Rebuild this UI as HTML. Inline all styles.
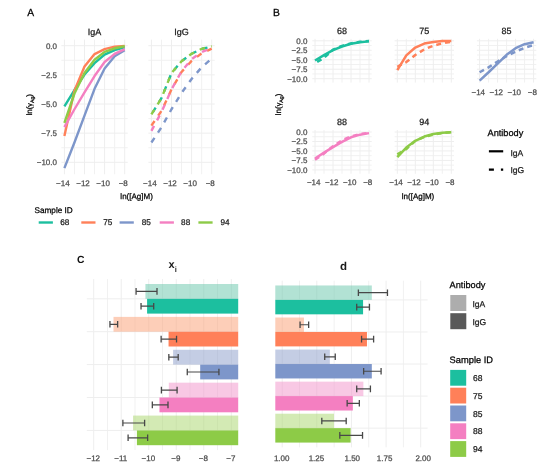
<!DOCTYPE html>
<html><head><meta charset="utf-8"><style>
html,body{-webkit-font-smoothing:antialiased;text-rendering:geometricPrecision;margin:0;padding:0;background:#fff;width:550px;height:471px;overflow:hidden;font-family:"Liberation Sans", sans-serif;}
</style></head><body>
<svg width="550" height="471" viewBox="0 0 550 471" style="position:absolute;left:0;top:0;will-change:transform;filter:blur(0.35px)" font-family='"Liberation Sans", sans-serif'>
<rect x="0.00" y="0.00" width="550.00" height="471.00" fill="#FFFFFF" />
<text x="27.20" y="16.10" font-size="10.3" text-anchor="start" fill="#000" font-weight="normal" stroke="#000" stroke-width="0.25" >A</text>
<line x1="74.45" y1="39.58" x2="74.45" y2="174.25" stroke="#F1F1F1" stroke-width="1.0" />
<line x1="94.55" y1="39.58" x2="94.55" y2="174.25" stroke="#F1F1F1" stroke-width="1.0" />
<line x1="114.65" y1="39.58" x2="114.65" y2="174.25" stroke="#F1F1F1" stroke-width="1.0" />
<line x1="61.38" y1="60.28" x2="127.72" y2="60.28" stroke="#F1F1F1" stroke-width="1.0" />
<line x1="61.38" y1="89.43" x2="127.72" y2="89.43" stroke="#F1F1F1" stroke-width="1.0" />
<line x1="61.38" y1="118.58" x2="127.72" y2="118.58" stroke="#F1F1F1" stroke-width="1.0" />
<line x1="61.38" y1="147.73" x2="127.72" y2="147.73" stroke="#F1F1F1" stroke-width="1.0" />
<line x1="64.40" y1="39.58" x2="64.40" y2="174.25" stroke="#EEEEEE" stroke-width="1" />
<line x1="84.50" y1="39.58" x2="84.50" y2="174.25" stroke="#EEEEEE" stroke-width="1" />
<line x1="104.60" y1="39.58" x2="104.60" y2="174.25" stroke="#EEEEEE" stroke-width="1" />
<line x1="124.70" y1="39.58" x2="124.70" y2="174.25" stroke="#EEEEEE" stroke-width="1" />
<line x1="61.38" y1="45.70" x2="127.72" y2="45.70" stroke="#EEEEEE" stroke-width="1" />
<line x1="61.38" y1="74.85" x2="127.72" y2="74.85" stroke="#EEEEEE" stroke-width="1" />
<line x1="61.38" y1="104.00" x2="127.72" y2="104.00" stroke="#EEEEEE" stroke-width="1" />
<line x1="61.38" y1="133.15" x2="127.72" y2="133.15" stroke="#EEEEEE" stroke-width="1" />
<line x1="61.38" y1="162.30" x2="127.72" y2="162.30" stroke="#EEEEEE" stroke-width="1" />
<clipPath id="cA1"><rect x="61.38" y="39.58" width="66.33" height="134.67"/></clipPath>
<g clip-path="url(#cA1)" fill="none" stroke-linejoin="round">
<polyline points="64.40,106.33 74.45,90.01 84.50,74.50 94.55,63.19 104.60,54.68 114.65,50.13 124.70,47.45" stroke="#1CBF9F" stroke-width="2.4" />
<polyline points="64.40,136.06 74.45,90.59 84.50,66.45 94.55,54.10 104.60,49.20 114.65,46.63 124.70,45.93" stroke="#FF8059" stroke-width="2.4" />
<polyline points="64.40,168.13 74.45,142.48 84.50,115.66 94.55,88.84 104.60,68.44 114.65,56.19 124.70,50.25" stroke="#7D96CA" stroke-width="2.4" />
<polyline points="64.40,127.09 74.45,109.25 84.50,92.34 94.55,76.02 104.60,62.02 114.65,53.86 124.70,49.20" stroke="#F47FC1" stroke-width="2.4" />
<polyline points="64.40,122.89 74.45,93.51 84.50,72.98 94.55,59.69 104.60,51.88 114.65,48.27 124.70,46.17" stroke="#8DCB47" stroke-width="2.4" />
</g>
<text x="94.55" y="34.80" font-size="9" text-anchor="middle" fill="#1A1A1A" font-weight="normal" stroke="#1A1A1A" stroke-width="0.25" >IgA</text>
<text x="57.00" y="48.60" font-size="8" text-anchor="end" fill="#4D4D4D" font-weight="normal" stroke="#4D4D4D" stroke-width="0.25" >0.0</text>
<text x="57.00" y="77.75" font-size="8" text-anchor="end" fill="#4D4D4D" font-weight="normal" stroke="#4D4D4D" stroke-width="0.25" >−2.5</text>
<text x="57.00" y="106.90" font-size="8" text-anchor="end" fill="#4D4D4D" font-weight="normal" stroke="#4D4D4D" stroke-width="0.25" >−5.0</text>
<text x="57.00" y="136.05" font-size="8" text-anchor="end" fill="#4D4D4D" font-weight="normal" stroke="#4D4D4D" stroke-width="0.25" >−7.5</text>
<text x="57.00" y="165.20" font-size="8" text-anchor="end" fill="#4D4D4D" font-weight="normal" stroke="#4D4D4D" stroke-width="0.25" >−10.0</text>
<text x="62.90" y="186.40" font-size="8" text-anchor="middle" fill="#4D4D4D" font-weight="normal" stroke="#4D4D4D" stroke-width="0.25" >−14</text>
<text x="83.00" y="186.40" font-size="8" text-anchor="middle" fill="#4D4D4D" font-weight="normal" stroke="#4D4D4D" stroke-width="0.25" >−12</text>
<text x="103.10" y="186.40" font-size="8" text-anchor="middle" fill="#4D4D4D" font-weight="normal" stroke="#4D4D4D" stroke-width="0.25" >−10</text>
<text x="123.20" y="186.40" font-size="8" text-anchor="middle" fill="#4D4D4D" font-weight="normal" stroke="#4D4D4D" stroke-width="0.25" >−8</text>
<line x1="161.45" y1="39.58" x2="161.45" y2="174.25" stroke="#F1F1F1" stroke-width="1.0" />
<line x1="181.55" y1="39.58" x2="181.55" y2="174.25" stroke="#F1F1F1" stroke-width="1.0" />
<line x1="201.65" y1="39.58" x2="201.65" y2="174.25" stroke="#F1F1F1" stroke-width="1.0" />
<line x1="148.38" y1="60.28" x2="214.72" y2="60.28" stroke="#F1F1F1" stroke-width="1.0" />
<line x1="148.38" y1="89.43" x2="214.72" y2="89.43" stroke="#F1F1F1" stroke-width="1.0" />
<line x1="148.38" y1="118.58" x2="214.72" y2="118.58" stroke="#F1F1F1" stroke-width="1.0" />
<line x1="148.38" y1="147.73" x2="214.72" y2="147.73" stroke="#F1F1F1" stroke-width="1.0" />
<line x1="151.40" y1="39.58" x2="151.40" y2="174.25" stroke="#EEEEEE" stroke-width="1" />
<line x1="171.50" y1="39.58" x2="171.50" y2="174.25" stroke="#EEEEEE" stroke-width="1" />
<line x1="191.60" y1="39.58" x2="191.60" y2="174.25" stroke="#EEEEEE" stroke-width="1" />
<line x1="211.70" y1="39.58" x2="211.70" y2="174.25" stroke="#EEEEEE" stroke-width="1" />
<line x1="148.38" y1="45.70" x2="214.72" y2="45.70" stroke="#EEEEEE" stroke-width="1" />
<line x1="148.38" y1="74.85" x2="214.72" y2="74.85" stroke="#EEEEEE" stroke-width="1" />
<line x1="148.38" y1="104.00" x2="214.72" y2="104.00" stroke="#EEEEEE" stroke-width="1" />
<line x1="148.38" y1="133.15" x2="214.72" y2="133.15" stroke="#EEEEEE" stroke-width="1" />
<line x1="148.38" y1="162.30" x2="214.72" y2="162.30" stroke="#EEEEEE" stroke-width="1" />
<clipPath id="cA2"><rect x="148.38" y="39.58" width="66.33" height="134.67"/></clipPath>
<g clip-path="url(#cA2)" fill="none" stroke-linejoin="round">
<polyline points="151.40,114.49 161.45,98.17 171.50,73.10 181.55,61.21 191.60,53.75 201.65,48.85 211.70,46.63" stroke="#1CBF9F" stroke-width="2.4" stroke-dasharray="5.6 6.3" stroke-dashoffset="-2.5"/>
<polyline points="151.40,125.57 161.45,111.00 171.50,89.43 181.55,71.94 191.60,60.86 201.65,53.40 211.70,48.62" stroke="#FF8059" stroke-width="2.4" stroke-dasharray="5.6 6.3"/>
<polyline points="151.40,142.48 161.45,127.32 171.50,109.25 181.55,92.92 191.60,78.93 201.65,67.27 211.70,58.53" stroke="#7D96CA" stroke-width="2.4" stroke-dasharray="5.6 6.3"/>
<polyline points="151.40,130.82 161.45,112.16 171.50,89.43 181.55,71.35 191.60,59.11 201.65,52.11 211.70,48.03" stroke="#F47FC1" stroke-width="2.4" stroke-dasharray="5.6 6.3"/>
<polyline points="151.40,114.49 161.45,98.17 171.50,73.10 181.55,61.21 191.60,53.75 201.65,48.85 211.70,46.28" stroke="#8DCB47" stroke-width="2.4" stroke-dasharray="5.6 6.3"/>
</g>
<text x="181.55" y="34.80" font-size="9" text-anchor="middle" fill="#1A1A1A" font-weight="normal" stroke="#1A1A1A" stroke-width="0.25" >IgG</text>
<text x="149.90" y="186.40" font-size="8" text-anchor="middle" fill="#4D4D4D" font-weight="normal" stroke="#4D4D4D" stroke-width="0.25" >−14</text>
<text x="170.00" y="186.40" font-size="8" text-anchor="middle" fill="#4D4D4D" font-weight="normal" stroke="#4D4D4D" stroke-width="0.25" >−12</text>
<text x="190.10" y="186.40" font-size="8" text-anchor="middle" fill="#4D4D4D" font-weight="normal" stroke="#4D4D4D" stroke-width="0.25" >−10</text>
<text x="210.20" y="186.40" font-size="8" text-anchor="middle" fill="#4D4D4D" font-weight="normal" stroke="#4D4D4D" stroke-width="0.25" >−8</text>
<text x="136.60" y="199.30" font-size="8" text-anchor="middle" fill="#000" font-weight="normal" stroke="#000" stroke-width="0.25" >ln([Ag]M)</text>
<text transform="translate(32.0,104.8) rotate(-90)" font-size="8" text-anchor="middle" fill="#000" stroke="#000" stroke-width="0.25">ln(<tspan font-size="7.3">γ</tspan><tspan font-size="5.2" dy="1.8">Ag</tspan><tspan dy="-1.8">)</tspan></text>
<text x="34.50" y="213.30" font-size="8.2" text-anchor="start" fill="#000" font-weight="normal" stroke="#000" stroke-width="0.25" >Sample ID</text>
<line x1="38.70" y1="222.50" x2="52.90" y2="222.50" stroke="#1CBF9F" stroke-width="2.4" />
<text x="60.30" y="225.40" font-size="8.2" text-anchor="start" fill="#1A1A1A" font-weight="normal" stroke="#1A1A1A" stroke-width="0.25" >68</text>
<line x1="81.30" y1="222.50" x2="95.50" y2="222.50" stroke="#FF8059" stroke-width="2.4" />
<text x="103.30" y="225.40" font-size="8.2" text-anchor="start" fill="#1A1A1A" font-weight="normal" stroke="#1A1A1A" stroke-width="0.25" >75</text>
<line x1="119.60" y1="222.50" x2="133.80" y2="222.50" stroke="#7D96CA" stroke-width="2.4" />
<text x="141.80" y="225.40" font-size="8.2" text-anchor="start" fill="#1A1A1A" font-weight="normal" stroke="#1A1A1A" stroke-width="0.25" >85</text>
<line x1="159.70" y1="222.50" x2="173.90" y2="222.50" stroke="#F47FC1" stroke-width="2.4" />
<text x="181.10" y="225.40" font-size="8.2" text-anchor="start" fill="#1A1A1A" font-weight="normal" stroke="#1A1A1A" stroke-width="0.25" >88</text>
<line x1="198.40" y1="222.50" x2="212.60" y2="222.50" stroke="#8DCB47" stroke-width="2.4" />
<text x="220.40" y="225.40" font-size="8.2" text-anchor="start" fill="#1A1A1A" font-weight="normal" stroke="#1A1A1A" stroke-width="0.25" >94</text>
<text x="273.00" y="15.60" font-size="10.3" text-anchor="start" fill="#000" font-weight="normal" stroke="#000" stroke-width="0.25" >B</text>
<line x1="324.00" y1="38.81" x2="324.00" y2="82.58" stroke="#F1F1F1" stroke-width="1.0" />
<line x1="342.00" y1="38.81" x2="342.00" y2="82.58" stroke="#F1F1F1" stroke-width="1.0" />
<line x1="360.00" y1="38.81" x2="360.00" y2="82.58" stroke="#F1F1F1" stroke-width="1.0" />
<line x1="312.30" y1="45.54" x2="371.70" y2="45.54" stroke="#F1F1F1" stroke-width="1.0" />
<line x1="312.30" y1="55.01" x2="371.70" y2="55.01" stroke="#F1F1F1" stroke-width="1.0" />
<line x1="312.30" y1="64.49" x2="371.70" y2="64.49" stroke="#F1F1F1" stroke-width="1.0" />
<line x1="312.30" y1="73.96" x2="371.70" y2="73.96" stroke="#F1F1F1" stroke-width="1.0" />
<line x1="315.00" y1="38.81" x2="315.00" y2="82.58" stroke="#EEEEEE" stroke-width="1" />
<line x1="333.00" y1="38.81" x2="333.00" y2="82.58" stroke="#EEEEEE" stroke-width="1" />
<line x1="351.00" y1="38.81" x2="351.00" y2="82.58" stroke="#EEEEEE" stroke-width="1" />
<line x1="369.00" y1="38.81" x2="369.00" y2="82.58" stroke="#EEEEEE" stroke-width="1" />
<line x1="312.30" y1="40.80" x2="371.70" y2="40.80" stroke="#EEEEEE" stroke-width="1" />
<line x1="312.30" y1="50.27" x2="371.70" y2="50.27" stroke="#EEEEEE" stroke-width="1" />
<line x1="312.30" y1="59.75" x2="371.70" y2="59.75" stroke="#EEEEEE" stroke-width="1" />
<line x1="312.30" y1="69.22" x2="371.70" y2="69.22" stroke="#EEEEEE" stroke-width="1" />
<line x1="312.30" y1="78.70" x2="371.70" y2="78.70" stroke="#EEEEEE" stroke-width="1" />
<clipPath id="cB0"><rect x="312.30" y="38.81" width="59.40" height="43.77"/></clipPath>
<g clip-path="url(#cB0)" fill="none" stroke-linejoin="round">
<polyline points="315.00,60.51 324.00,55.20 333.00,50.16 342.00,46.48 351.00,43.72 360.00,42.24 369.00,41.37" stroke="#1CBF9F" stroke-width="2.5" />
<polyline points="315.00,63.16 324.00,57.85 333.00,49.71 342.00,45.84 351.00,43.42 360.00,41.82 369.00,41.10" stroke="#1CBF9F" stroke-width="2.5" stroke-dasharray="5 4" stroke-dashoffset="-2.5"/>
</g>
<text x="342.00" y="33.80" font-size="9" text-anchor="middle" fill="#1A1A1A" font-weight="normal" stroke="#1A1A1A" stroke-width="0.25" >68</text>
<text x="307.40" y="43.70" font-size="8" text-anchor="end" fill="#4D4D4D" font-weight="normal" stroke="#4D4D4D" stroke-width="0.25" >0.0</text>
<text x="307.40" y="53.17" font-size="8" text-anchor="end" fill="#4D4D4D" font-weight="normal" stroke="#4D4D4D" stroke-width="0.25" >−2.5</text>
<text x="307.40" y="62.65" font-size="8" text-anchor="end" fill="#4D4D4D" font-weight="normal" stroke="#4D4D4D" stroke-width="0.25" >−5.0</text>
<text x="307.40" y="72.12" font-size="8" text-anchor="end" fill="#4D4D4D" font-weight="normal" stroke="#4D4D4D" stroke-width="0.25" >−7.5</text>
<text x="307.40" y="81.60" font-size="8" text-anchor="end" fill="#4D4D4D" font-weight="normal" stroke="#4D4D4D" stroke-width="0.25" >−10.0</text>
<line x1="406.30" y1="38.81" x2="406.30" y2="82.58" stroke="#F1F1F1" stroke-width="1.0" />
<line x1="424.30" y1="38.81" x2="424.30" y2="82.58" stroke="#F1F1F1" stroke-width="1.0" />
<line x1="442.30" y1="38.81" x2="442.30" y2="82.58" stroke="#F1F1F1" stroke-width="1.0" />
<line x1="394.60" y1="45.54" x2="454.00" y2="45.54" stroke="#F1F1F1" stroke-width="1.0" />
<line x1="394.60" y1="55.01" x2="454.00" y2="55.01" stroke="#F1F1F1" stroke-width="1.0" />
<line x1="394.60" y1="64.49" x2="454.00" y2="64.49" stroke="#F1F1F1" stroke-width="1.0" />
<line x1="394.60" y1="73.96" x2="454.00" y2="73.96" stroke="#F1F1F1" stroke-width="1.0" />
<line x1="397.30" y1="38.81" x2="397.30" y2="82.58" stroke="#EEEEEE" stroke-width="1" />
<line x1="415.30" y1="38.81" x2="415.30" y2="82.58" stroke="#EEEEEE" stroke-width="1" />
<line x1="433.30" y1="38.81" x2="433.30" y2="82.58" stroke="#EEEEEE" stroke-width="1" />
<line x1="451.30" y1="38.81" x2="451.30" y2="82.58" stroke="#EEEEEE" stroke-width="1" />
<line x1="394.60" y1="40.80" x2="454.00" y2="40.80" stroke="#EEEEEE" stroke-width="1" />
<line x1="394.60" y1="50.27" x2="454.00" y2="50.27" stroke="#EEEEEE" stroke-width="1" />
<line x1="394.60" y1="59.75" x2="454.00" y2="59.75" stroke="#EEEEEE" stroke-width="1" />
<line x1="394.60" y1="69.22" x2="454.00" y2="69.22" stroke="#EEEEEE" stroke-width="1" />
<line x1="394.60" y1="78.70" x2="454.00" y2="78.70" stroke="#EEEEEE" stroke-width="1" />
<clipPath id="cB1"><rect x="394.60" y="38.81" width="59.40" height="43.77"/></clipPath>
<g clip-path="url(#cB1)" fill="none" stroke-linejoin="round">
<polyline points="397.30,70.17 406.30,55.39 415.30,47.55 424.30,43.53 433.30,41.94 442.30,41.10 451.30,40.88" stroke="#FF8059" stroke-width="2.5" />
<polyline points="397.30,66.76 406.30,62.02 415.30,55.01 424.30,49.33 433.30,45.73 442.30,43.30 451.30,41.75" stroke="#FF8059" stroke-width="2.5" stroke-dasharray="5 4"/>
</g>
<text x="424.30" y="33.80" font-size="9" text-anchor="middle" fill="#1A1A1A" font-weight="normal" stroke="#1A1A1A" stroke-width="0.25" >75</text>
<line x1="488.60" y1="38.81" x2="488.60" y2="82.58" stroke="#F1F1F1" stroke-width="1.0" />
<line x1="506.60" y1="38.81" x2="506.60" y2="82.58" stroke="#F1F1F1" stroke-width="1.0" />
<line x1="524.60" y1="38.81" x2="524.60" y2="82.58" stroke="#F1F1F1" stroke-width="1.0" />
<line x1="476.90" y1="45.54" x2="536.30" y2="45.54" stroke="#F1F1F1" stroke-width="1.0" />
<line x1="476.90" y1="55.01" x2="536.30" y2="55.01" stroke="#F1F1F1" stroke-width="1.0" />
<line x1="476.90" y1="64.49" x2="536.30" y2="64.49" stroke="#F1F1F1" stroke-width="1.0" />
<line x1="476.90" y1="73.96" x2="536.30" y2="73.96" stroke="#F1F1F1" stroke-width="1.0" />
<line x1="479.60" y1="38.81" x2="479.60" y2="82.58" stroke="#EEEEEE" stroke-width="1" />
<line x1="497.60" y1="38.81" x2="497.60" y2="82.58" stroke="#EEEEEE" stroke-width="1" />
<line x1="515.60" y1="38.81" x2="515.60" y2="82.58" stroke="#EEEEEE" stroke-width="1" />
<line x1="533.60" y1="38.81" x2="533.60" y2="82.58" stroke="#EEEEEE" stroke-width="1" />
<line x1="476.90" y1="40.80" x2="536.30" y2="40.80" stroke="#EEEEEE" stroke-width="1" />
<line x1="476.90" y1="50.27" x2="536.30" y2="50.27" stroke="#EEEEEE" stroke-width="1" />
<line x1="476.90" y1="59.75" x2="536.30" y2="59.75" stroke="#EEEEEE" stroke-width="1" />
<line x1="476.90" y1="69.22" x2="536.30" y2="69.22" stroke="#EEEEEE" stroke-width="1" />
<line x1="476.90" y1="78.70" x2="536.30" y2="78.70" stroke="#EEEEEE" stroke-width="1" />
<clipPath id="cB2"><rect x="476.90" y="38.81" width="59.40" height="43.77"/></clipPath>
<g clip-path="url(#cB2)" fill="none" stroke-linejoin="round">
<polyline points="479.60,80.59 488.60,72.26 497.60,63.54 506.60,54.82 515.60,48.19 524.60,44.21 533.60,42.28" stroke="#7D96CA" stroke-width="2.5" />
<polyline points="479.60,72.26 488.60,67.33 497.60,61.46 506.60,56.15 515.60,51.60 524.60,47.81 533.60,44.97" stroke="#7D96CA" stroke-width="2.5" stroke-dasharray="5 4"/>
</g>
<text x="506.60" y="33.80" font-size="9" text-anchor="middle" fill="#1A1A1A" font-weight="normal" stroke="#1A1A1A" stroke-width="0.25" >85</text>
<text x="478.30" y="94.70" font-size="8" text-anchor="middle" fill="#4D4D4D" font-weight="normal" stroke="#4D4D4D" stroke-width="0.25" >−14</text>
<text x="496.30" y="94.70" font-size="8" text-anchor="middle" fill="#4D4D4D" font-weight="normal" stroke="#4D4D4D" stroke-width="0.25" >−12</text>
<text x="514.30" y="94.70" font-size="8" text-anchor="middle" fill="#4D4D4D" font-weight="normal" stroke="#4D4D4D" stroke-width="0.25" >−10</text>
<text x="532.30" y="94.70" font-size="8" text-anchor="middle" fill="#4D4D4D" font-weight="normal" stroke="#4D4D4D" stroke-width="0.25" >−8</text>
<line x1="324.00" y1="130.01" x2="324.00" y2="173.78" stroke="#F1F1F1" stroke-width="1.0" />
<line x1="342.00" y1="130.01" x2="342.00" y2="173.78" stroke="#F1F1F1" stroke-width="1.0" />
<line x1="360.00" y1="130.01" x2="360.00" y2="173.78" stroke="#F1F1F1" stroke-width="1.0" />
<line x1="312.30" y1="136.74" x2="371.70" y2="136.74" stroke="#F1F1F1" stroke-width="1.0" />
<line x1="312.30" y1="146.21" x2="371.70" y2="146.21" stroke="#F1F1F1" stroke-width="1.0" />
<line x1="312.30" y1="155.69" x2="371.70" y2="155.69" stroke="#F1F1F1" stroke-width="1.0" />
<line x1="312.30" y1="165.16" x2="371.70" y2="165.16" stroke="#F1F1F1" stroke-width="1.0" />
<line x1="315.00" y1="130.01" x2="315.00" y2="173.78" stroke="#EEEEEE" stroke-width="1" />
<line x1="333.00" y1="130.01" x2="333.00" y2="173.78" stroke="#EEEEEE" stroke-width="1" />
<line x1="351.00" y1="130.01" x2="351.00" y2="173.78" stroke="#EEEEEE" stroke-width="1" />
<line x1="369.00" y1="130.01" x2="369.00" y2="173.78" stroke="#EEEEEE" stroke-width="1" />
<line x1="312.30" y1="132.00" x2="371.70" y2="132.00" stroke="#EEEEEE" stroke-width="1" />
<line x1="312.30" y1="141.47" x2="371.70" y2="141.47" stroke="#EEEEEE" stroke-width="1" />
<line x1="312.30" y1="150.95" x2="371.70" y2="150.95" stroke="#EEEEEE" stroke-width="1" />
<line x1="312.30" y1="160.43" x2="371.70" y2="160.43" stroke="#EEEEEE" stroke-width="1" />
<line x1="312.30" y1="169.90" x2="371.70" y2="169.90" stroke="#EEEEEE" stroke-width="1" />
<clipPath id="cB3"><rect x="312.30" y="130.01" width="59.40" height="43.77"/></clipPath>
<g clip-path="url(#cB3)" fill="none" stroke-linejoin="round">
<polyline points="315.00,158.45 324.00,152.66 333.00,147.16 342.00,141.85 351.00,137.31 360.00,134.65 369.00,133.14" stroke="#F47FC1" stroke-width="2.5" />
<polyline points="315.00,159.67 324.00,153.60 333.00,146.21 342.00,140.34 351.00,136.36 360.00,134.08 369.00,132.76" stroke="#F47FC1" stroke-width="2.5" stroke-dasharray="5 4"/>
</g>
<text x="342.00" y="125.00" font-size="9" text-anchor="middle" fill="#1A1A1A" font-weight="normal" stroke="#1A1A1A" stroke-width="0.25" >88</text>
<text x="307.40" y="134.90" font-size="8" text-anchor="end" fill="#4D4D4D" font-weight="normal" stroke="#4D4D4D" stroke-width="0.25" >0.0</text>
<text x="307.40" y="144.38" font-size="8" text-anchor="end" fill="#4D4D4D" font-weight="normal" stroke="#4D4D4D" stroke-width="0.25" >−2.5</text>
<text x="307.40" y="153.85" font-size="8" text-anchor="end" fill="#4D4D4D" font-weight="normal" stroke="#4D4D4D" stroke-width="0.25" >−5.0</text>
<text x="307.40" y="163.33" font-size="8" text-anchor="end" fill="#4D4D4D" font-weight="normal" stroke="#4D4D4D" stroke-width="0.25" >−7.5</text>
<text x="307.40" y="172.80" font-size="8" text-anchor="end" fill="#4D4D4D" font-weight="normal" stroke="#4D4D4D" stroke-width="0.25" >−10.0</text>
<text x="313.70" y="184.90" font-size="8" text-anchor="middle" fill="#4D4D4D" font-weight="normal" stroke="#4D4D4D" stroke-width="0.25" >−14</text>
<text x="331.70" y="184.90" font-size="8" text-anchor="middle" fill="#4D4D4D" font-weight="normal" stroke="#4D4D4D" stroke-width="0.25" >−12</text>
<text x="349.70" y="184.90" font-size="8" text-anchor="middle" fill="#4D4D4D" font-weight="normal" stroke="#4D4D4D" stroke-width="0.25" >−10</text>
<text x="367.70" y="184.90" font-size="8" text-anchor="middle" fill="#4D4D4D" font-weight="normal" stroke="#4D4D4D" stroke-width="0.25" >−8</text>
<line x1="406.30" y1="130.01" x2="406.30" y2="173.78" stroke="#F1F1F1" stroke-width="1.0" />
<line x1="424.30" y1="130.01" x2="424.30" y2="173.78" stroke="#F1F1F1" stroke-width="1.0" />
<line x1="442.30" y1="130.01" x2="442.30" y2="173.78" stroke="#F1F1F1" stroke-width="1.0" />
<line x1="394.60" y1="136.74" x2="454.00" y2="136.74" stroke="#F1F1F1" stroke-width="1.0" />
<line x1="394.60" y1="146.21" x2="454.00" y2="146.21" stroke="#F1F1F1" stroke-width="1.0" />
<line x1="394.60" y1="155.69" x2="454.00" y2="155.69" stroke="#F1F1F1" stroke-width="1.0" />
<line x1="394.60" y1="165.16" x2="454.00" y2="165.16" stroke="#F1F1F1" stroke-width="1.0" />
<line x1="397.30" y1="130.01" x2="397.30" y2="173.78" stroke="#EEEEEE" stroke-width="1" />
<line x1="415.30" y1="130.01" x2="415.30" y2="173.78" stroke="#EEEEEE" stroke-width="1" />
<line x1="433.30" y1="130.01" x2="433.30" y2="173.78" stroke="#EEEEEE" stroke-width="1" />
<line x1="451.30" y1="130.01" x2="451.30" y2="173.78" stroke="#EEEEEE" stroke-width="1" />
<line x1="394.60" y1="132.00" x2="454.00" y2="132.00" stroke="#EEEEEE" stroke-width="1" />
<line x1="394.60" y1="141.47" x2="454.00" y2="141.47" stroke="#EEEEEE" stroke-width="1" />
<line x1="394.60" y1="150.95" x2="454.00" y2="150.95" stroke="#EEEEEE" stroke-width="1" />
<line x1="394.60" y1="160.43" x2="454.00" y2="160.43" stroke="#EEEEEE" stroke-width="1" />
<line x1="394.60" y1="169.90" x2="454.00" y2="169.90" stroke="#EEEEEE" stroke-width="1" />
<clipPath id="cB4"><rect x="394.60" y="130.01" width="59.40" height="43.77"/></clipPath>
<g clip-path="url(#cB4)" fill="none" stroke-linejoin="round">
<polyline points="397.30,157.09 406.30,147.54 415.30,140.87 424.30,136.55 433.30,134.01 442.30,132.83 451.30,132.15" stroke="#8DCB47" stroke-width="2.5" />
<polyline points="397.30,154.36 406.30,149.06 415.30,140.91 424.30,137.04 433.30,134.62 442.30,133.02 451.30,132.19" stroke="#8DCB47" stroke-width="2.5" stroke-dasharray="5 4"/>
</g>
<text x="424.30" y="125.00" font-size="9" text-anchor="middle" fill="#1A1A1A" font-weight="normal" stroke="#1A1A1A" stroke-width="0.25" >94</text>
<text x="396.00" y="184.90" font-size="8" text-anchor="middle" fill="#4D4D4D" font-weight="normal" stroke="#4D4D4D" stroke-width="0.25" >−14</text>
<text x="414.00" y="184.90" font-size="8" text-anchor="middle" fill="#4D4D4D" font-weight="normal" stroke="#4D4D4D" stroke-width="0.25" >−12</text>
<text x="432.00" y="184.90" font-size="8" text-anchor="middle" fill="#4D4D4D" font-weight="normal" stroke="#4D4D4D" stroke-width="0.25" >−10</text>
<text x="450.00" y="184.90" font-size="8" text-anchor="middle" fill="#4D4D4D" font-weight="normal" stroke="#4D4D4D" stroke-width="0.25" >−8</text>
<text x="418.00" y="198.60" font-size="8" text-anchor="middle" fill="#000" font-weight="normal" stroke="#000" stroke-width="0.25" >ln([Ag]M)</text>
<text transform="translate(281.3,104.4) rotate(-90)" font-size="8" text-anchor="middle" fill="#000" stroke="#000" stroke-width="0.25">ln(<tspan font-size="7.3">γ</tspan><tspan font-size="5.2" dy="1.8">Ag</tspan><tspan dy="-1.8">)</tspan></text>
<text x="487.50" y="136.00" font-size="9.2" text-anchor="start" fill="#000" font-weight="normal" stroke="#000" stroke-width="0.25" >Antibody</text>
<line x1="488.90" y1="151.30" x2="503.20" y2="151.30" stroke="#000" stroke-width="2.2" />
<line x1="488.90" y1="169.70" x2="503.20" y2="169.70" stroke="#000" stroke-width="2.2" stroke-dasharray="5 7 3 10"/>
<text x="510.50" y="155.50" font-size="8.5" text-anchor="start" fill="#1A1A1A" font-weight="normal" stroke="#1A1A1A" stroke-width="0.25" >IgA</text>
<text x="510.50" y="173.20" font-size="8.5" text-anchor="start" fill="#1A1A1A" font-weight="normal" stroke="#1A1A1A" stroke-width="0.25" >IgG</text>
<text x="76.90" y="263.20" font-size="10.3" text-anchor="start" fill="#111" font-weight="bold" >C</text>
<line x1="107.46" y1="279.06" x2="107.46" y2="450.14" stroke="#F1F1F1" stroke-width="1.0" />
<line x1="134.98" y1="279.06" x2="134.98" y2="450.14" stroke="#F1F1F1" stroke-width="1.0" />
<line x1="162.50" y1="279.06" x2="162.50" y2="450.14" stroke="#F1F1F1" stroke-width="1.0" />
<line x1="190.02" y1="279.06" x2="190.02" y2="450.14" stroke="#F1F1F1" stroke-width="1.0" />
<line x1="217.54" y1="279.06" x2="217.54" y2="450.14" stroke="#F1F1F1" stroke-width="1.0" />
<line x1="93.70" y1="279.06" x2="93.70" y2="450.14" stroke="#EEEEEE" stroke-width="1" />
<line x1="121.22" y1="279.06" x2="121.22" y2="450.14" stroke="#EEEEEE" stroke-width="1" />
<line x1="148.74" y1="279.06" x2="148.74" y2="450.14" stroke="#EEEEEE" stroke-width="1" />
<line x1="176.26" y1="279.06" x2="176.26" y2="450.14" stroke="#EEEEEE" stroke-width="1" />
<line x1="203.78" y1="279.06" x2="203.78" y2="450.14" stroke="#EEEEEE" stroke-width="1" />
<line x1="231.30" y1="279.06" x2="231.30" y2="450.14" stroke="#EEEEEE" stroke-width="1" />
<line x1="86.80" y1="298.80" x2="238.20" y2="298.80" stroke="#EEEEEE" stroke-width="1" />
<line x1="86.80" y1="331.70" x2="238.20" y2="331.70" stroke="#EEEEEE" stroke-width="1" />
<line x1="86.80" y1="364.60" x2="238.20" y2="364.60" stroke="#EEEEEE" stroke-width="1" />
<line x1="86.80" y1="397.50" x2="238.20" y2="397.50" stroke="#EEEEEE" stroke-width="1" />
<line x1="86.80" y1="430.40" x2="238.20" y2="430.40" stroke="#EEEEEE" stroke-width="1" />
<clipPath id="cC1"><rect x="86.80" y="279.06" width="151.40" height="171.08"/></clipPath>
<g clip-path="url(#cC1)">
<rect x="145.44" y="284.00" width="97.76" height="14.80" fill="rgb(101,197,169)" fill-opacity="0.5"/>
<rect x="147.09" y="298.80" width="96.11" height="14.80" fill="#1CBF9F" fill-opacity="1"/>
<rect x="113.51" y="316.89" width="129.69" height="14.80" fill="rgb(251,157,113)" fill-opacity="0.5"/>
<rect x="168.55" y="331.70" width="74.65" height="14.80" fill="#FF8059" fill-opacity="1"/>
<rect x="173.10" y="349.80" width="70.10" height="14.80" fill="rgb(137,155,201)" fill-opacity="0.5"/>
<rect x="200.20" y="364.60" width="43.00" height="14.80" fill="#7D96CA" fill-opacity="1"/>
<rect x="168.83" y="382.69" width="74.37" height="14.80" fill="rgb(241,145,201)" fill-opacity="0.5"/>
<rect x="159.47" y="397.50" width="83.73" height="14.80" fill="#F47FC1" fill-opacity="1"/>
<rect x="133.05" y="415.59" width="110.15" height="14.80" fill="rgb(167,213,105)" fill-opacity="0.5"/>
<rect x="136.91" y="430.40" width="106.29" height="14.80" fill="#8DCB47" fill-opacity="1"/>
<line x1="136.08" y1="291.40" x2="157.00" y2="291.40" stroke="#484848" stroke-width="1.2" />
<line x1="136.08" y1="288.10" x2="136.08" y2="294.70" stroke="#484848" stroke-width="1.3" />
<line x1="157.00" y1="288.10" x2="157.00" y2="294.70" stroke="#484848" stroke-width="1.3" />
<line x1="141.03" y1="306.20" x2="153.69" y2="306.20" stroke="#484848" stroke-width="1.2" />
<line x1="141.03" y1="302.90" x2="141.03" y2="309.50" stroke="#484848" stroke-width="1.3" />
<line x1="153.69" y1="302.90" x2="153.69" y2="309.50" stroke="#484848" stroke-width="1.3" />
<line x1="109.94" y1="324.30" x2="117.64" y2="324.30" stroke="#484848" stroke-width="1.2" />
<line x1="109.94" y1="321.00" x2="109.94" y2="327.60" stroke="#484848" stroke-width="1.3" />
<line x1="117.64" y1="321.00" x2="117.64" y2="327.60" stroke="#484848" stroke-width="1.3" />
<line x1="161.12" y1="339.10" x2="176.54" y2="339.10" stroke="#484848" stroke-width="1.2" />
<line x1="161.12" y1="335.80" x2="161.12" y2="342.40" stroke="#484848" stroke-width="1.3" />
<line x1="176.54" y1="335.80" x2="176.54" y2="342.40" stroke="#484848" stroke-width="1.3" />
<line x1="168.83" y1="357.20" x2="178.19" y2="357.20" stroke="#484848" stroke-width="1.2" />
<line x1="168.83" y1="353.90" x2="168.83" y2="360.50" stroke="#484848" stroke-width="1.3" />
<line x1="178.19" y1="353.90" x2="178.19" y2="360.50" stroke="#484848" stroke-width="1.3" />
<line x1="187.27" y1="372.00" x2="218.92" y2="372.00" stroke="#484848" stroke-width="1.2" />
<line x1="187.27" y1="368.70" x2="187.27" y2="375.30" stroke="#484848" stroke-width="1.3" />
<line x1="218.92" y1="368.70" x2="218.92" y2="375.30" stroke="#484848" stroke-width="1.3" />
<line x1="161.40" y1="390.10" x2="177.09" y2="390.10" stroke="#484848" stroke-width="1.2" />
<line x1="161.40" y1="386.80" x2="161.40" y2="393.40" stroke="#484848" stroke-width="1.3" />
<line x1="177.09" y1="386.80" x2="177.09" y2="393.40" stroke="#484848" stroke-width="1.3" />
<line x1="152.32" y1="404.90" x2="168.00" y2="404.90" stroke="#484848" stroke-width="1.2" />
<line x1="152.32" y1="401.60" x2="152.32" y2="408.20" stroke="#484848" stroke-width="1.3" />
<line x1="168.00" y1="401.60" x2="168.00" y2="408.20" stroke="#484848" stroke-width="1.3" />
<line x1="122.87" y1="423.00" x2="144.61" y2="423.00" stroke="#484848" stroke-width="1.2" />
<line x1="122.87" y1="419.70" x2="122.87" y2="426.30" stroke="#484848" stroke-width="1.3" />
<line x1="144.61" y1="419.70" x2="144.61" y2="426.30" stroke="#484848" stroke-width="1.3" />
<line x1="128.10" y1="437.80" x2="147.64" y2="437.80" stroke="#484848" stroke-width="1.2" />
<line x1="128.10" y1="434.50" x2="128.10" y2="441.10" stroke="#484848" stroke-width="1.3" />
<line x1="147.64" y1="434.50" x2="147.64" y2="441.10" stroke="#484848" stroke-width="1.3" />
</g>
<text x="93.30" y="460.90" font-size="8" text-anchor="middle" fill="#4D4D4D" font-weight="normal" stroke="#4D4D4D" stroke-width="0.25" >−12</text>
<text x="120.82" y="460.90" font-size="8" text-anchor="middle" fill="#4D4D4D" font-weight="normal" stroke="#4D4D4D" stroke-width="0.25" >−11</text>
<text x="148.34" y="460.90" font-size="8" text-anchor="middle" fill="#4D4D4D" font-weight="normal" stroke="#4D4D4D" stroke-width="0.25" >−10</text>
<text x="175.86" y="460.90" font-size="8" text-anchor="middle" fill="#4D4D4D" font-weight="normal" stroke="#4D4D4D" stroke-width="0.25" >−9</text>
<text x="203.38" y="460.90" font-size="8" text-anchor="middle" fill="#4D4D4D" font-weight="normal" stroke="#4D4D4D" stroke-width="0.25" >−8</text>
<text x="230.90" y="460.90" font-size="8" text-anchor="middle" fill="#4D4D4D" font-weight="normal" stroke="#4D4D4D" stroke-width="0.25" >−7</text>
<line x1="299.51" y1="280.66" x2="299.51" y2="447.38" stroke="#F1F1F1" stroke-width="1.0" />
<line x1="334.14" y1="280.66" x2="334.14" y2="447.38" stroke="#F1F1F1" stroke-width="1.0" />
<line x1="368.76" y1="280.66" x2="368.76" y2="447.38" stroke="#F1F1F1" stroke-width="1.0" />
<line x1="403.39" y1="280.66" x2="403.39" y2="447.38" stroke="#F1F1F1" stroke-width="1.0" />
<line x1="282.20" y1="280.66" x2="282.20" y2="447.38" stroke="#EEEEEE" stroke-width="1" />
<line x1="316.82" y1="280.66" x2="316.82" y2="447.38" stroke="#EEEEEE" stroke-width="1" />
<line x1="351.45" y1="280.66" x2="351.45" y2="447.38" stroke="#EEEEEE" stroke-width="1" />
<line x1="386.07" y1="280.66" x2="386.07" y2="447.38" stroke="#EEEEEE" stroke-width="1" />
<line x1="420.70" y1="280.66" x2="420.70" y2="447.38" stroke="#EEEEEE" stroke-width="1" />
<line x1="275.30" y1="299.90" x2="427.60" y2="299.90" stroke="#EEEEEE" stroke-width="1" />
<line x1="275.30" y1="331.96" x2="427.60" y2="331.96" stroke="#EEEEEE" stroke-width="1" />
<line x1="275.30" y1="364.02" x2="427.60" y2="364.02" stroke="#EEEEEE" stroke-width="1" />
<line x1="275.30" y1="396.08" x2="427.60" y2="396.08" stroke="#EEEEEE" stroke-width="1" />
<line x1="275.30" y1="428.14" x2="427.60" y2="428.14" stroke="#EEEEEE" stroke-width="1" />
<clipPath id="cC2"><rect x="275.30" y="280.66" width="152.30" height="166.71"/></clipPath>
<g clip-path="url(#cC2)">
<rect x="270.30" y="285.47" width="101.51" height="14.43" fill="rgb(101,197,169)" fill-opacity="0.5"/>
<rect x="270.30" y="299.90" width="92.78" height="14.43" fill="#1CBF9F" fill-opacity="1"/>
<rect x="270.30" y="317.53" width="33.64" height="14.43" fill="rgb(251,157,113)" fill-opacity="0.5"/>
<rect x="270.30" y="331.96" width="96.66" height="14.43" fill="#FF8059" fill-opacity="1"/>
<rect x="270.30" y="349.59" width="59.54" height="14.43" fill="rgb(137,155,201)" fill-opacity="0.5"/>
<rect x="270.30" y="364.02" width="101.51" height="14.43" fill="#7D96CA" fill-opacity="1"/>
<rect x="270.30" y="381.65" width="93.06" height="14.43" fill="rgb(241,145,201)" fill-opacity="0.5"/>
<rect x="270.30" y="396.08" width="82.53" height="14.43" fill="#F47FC1" fill-opacity="1"/>
<rect x="270.30" y="413.71" width="63.70" height="14.43" fill="rgb(167,213,105)" fill-opacity="0.5"/>
<rect x="270.30" y="428.14" width="80.32" height="14.43" fill="#8DCB47" fill-opacity="1"/>
<line x1="358.38" y1="292.69" x2="387.46" y2="292.69" stroke="#484848" stroke-width="1.2" />
<line x1="358.38" y1="289.39" x2="358.38" y2="295.99" stroke="#484848" stroke-width="1.3" />
<line x1="387.46" y1="289.39" x2="387.46" y2="295.99" stroke="#484848" stroke-width="1.3" />
<line x1="356.71" y1="307.11" x2="369.45" y2="307.11" stroke="#484848" stroke-width="1.2" />
<line x1="356.71" y1="303.81" x2="356.71" y2="310.41" stroke="#484848" stroke-width="1.3" />
<line x1="369.45" y1="303.81" x2="369.45" y2="310.41" stroke="#484848" stroke-width="1.3" />
<line x1="300.07" y1="324.75" x2="308.65" y2="324.75" stroke="#484848" stroke-width="1.2" />
<line x1="300.07" y1="321.45" x2="300.07" y2="328.05" stroke="#484848" stroke-width="1.3" />
<line x1="308.65" y1="321.45" x2="308.65" y2="328.05" stroke="#484848" stroke-width="1.3" />
<line x1="361.56" y1="339.17" x2="373.61" y2="339.17" stroke="#484848" stroke-width="1.2" />
<line x1="361.56" y1="335.87" x2="361.56" y2="342.47" stroke="#484848" stroke-width="1.3" />
<line x1="373.61" y1="335.87" x2="373.61" y2="342.47" stroke="#484848" stroke-width="1.3" />
<line x1="324.72" y1="356.81" x2="335.25" y2="356.81" stroke="#484848" stroke-width="1.2" />
<line x1="324.72" y1="353.51" x2="324.72" y2="360.11" stroke="#484848" stroke-width="1.3" />
<line x1="335.25" y1="353.51" x2="335.25" y2="360.11" stroke="#484848" stroke-width="1.3" />
<line x1="363.64" y1="371.23" x2="381.09" y2="371.23" stroke="#484848" stroke-width="1.2" />
<line x1="363.64" y1="367.93" x2="363.64" y2="374.53" stroke="#484848" stroke-width="1.3" />
<line x1="381.09" y1="367.93" x2="381.09" y2="374.53" stroke="#484848" stroke-width="1.3" />
<line x1="356.71" y1="388.87" x2="370.42" y2="388.87" stroke="#484848" stroke-width="1.2" />
<line x1="356.71" y1="385.57" x2="356.71" y2="392.17" stroke="#484848" stroke-width="1.3" />
<line x1="370.42" y1="385.57" x2="370.42" y2="392.17" stroke="#484848" stroke-width="1.3" />
<line x1="347.16" y1="403.29" x2="359.34" y2="403.29" stroke="#484848" stroke-width="1.2" />
<line x1="347.16" y1="399.99" x2="347.16" y2="406.59" stroke="#484848" stroke-width="1.3" />
<line x1="359.34" y1="399.99" x2="359.34" y2="406.59" stroke="#484848" stroke-width="1.3" />
<line x1="321.81" y1="420.93" x2="346.19" y2="420.93" stroke="#484848" stroke-width="1.2" />
<line x1="321.81" y1="417.63" x2="321.81" y2="424.23" stroke="#484848" stroke-width="1.3" />
<line x1="346.19" y1="417.63" x2="346.19" y2="424.23" stroke="#484848" stroke-width="1.3" />
<line x1="339.82" y1="435.35" x2="362.53" y2="435.35" stroke="#484848" stroke-width="1.2" />
<line x1="339.82" y1="432.05" x2="339.82" y2="438.65" stroke="#484848" stroke-width="1.3" />
<line x1="362.53" y1="432.05" x2="362.53" y2="438.65" stroke="#484848" stroke-width="1.3" />
</g>
<text x="281.70" y="460.90" font-size="8" text-anchor="middle" fill="#4D4D4D" font-weight="normal" stroke="#4D4D4D" stroke-width="0.25" >1.00</text>
<text x="316.43" y="460.90" font-size="8" text-anchor="middle" fill="#4D4D4D" font-weight="normal" stroke="#4D4D4D" stroke-width="0.25" >1.25</text>
<text x="352.25" y="460.90" font-size="8" text-anchor="middle" fill="#4D4D4D" font-weight="normal" stroke="#4D4D4D" stroke-width="0.25" >1.50</text>
<text x="384.57" y="460.90" font-size="8" text-anchor="middle" fill="#4D4D4D" font-weight="normal" stroke="#4D4D4D" stroke-width="0.25" >1.75</text>
<text x="423.20" y="460.90" font-size="8" text-anchor="middle" fill="#4D4D4D" font-weight="normal" stroke="#4D4D4D" stroke-width="0.25" >2.00</text>
<text x="168.6" y="268.2" font-size="11" font-weight="bold" fill="#1A1A1A">x<tspan font-size="7.5" dy="3.4">i</tspan></text>
<text x="339.90" y="269.60" font-size="11.5" text-anchor="start" fill="#1A1A1A" font-weight="bold" >d</text>
<text x="449.60" y="287.80" font-size="9.2" text-anchor="start" fill="#000" font-weight="normal" stroke="#000" stroke-width="0.25" >Antibody</text>
<rect x="450.30" y="295.00" width="16.00" height="16.00" fill="#ADADAD" />
<rect x="450.30" y="313.20" width="16.00" height="16.00" fill="#595959" />
<text x="472.50" y="306.60" font-size="8.5" text-anchor="start" fill="#1A1A1A" font-weight="normal" stroke="#1A1A1A" stroke-width="0.25" >IgA</text>
<text x="472.50" y="324.60" font-size="8.5" text-anchor="start" fill="#1A1A1A" font-weight="normal" stroke="#1A1A1A" stroke-width="0.25" >IgG</text>
<text x="449.60" y="362.50" font-size="9.3" text-anchor="start" fill="#000" font-weight="normal" stroke="#000" stroke-width="0.25" >Sample ID</text>
<rect x="450.20" y="369.90" width="16.00" height="15.80" fill="#1CBF9F" />
<text x="473.00" y="380.90" font-size="8.5" text-anchor="start" fill="#1A1A1A" font-weight="normal" stroke="#1A1A1A" stroke-width="0.25" >68</text>
<rect x="450.20" y="387.70" width="16.00" height="15.80" fill="#FF8059" />
<text x="473.00" y="398.70" font-size="8.5" text-anchor="start" fill="#1A1A1A" font-weight="normal" stroke="#1A1A1A" stroke-width="0.25" >75</text>
<rect x="450.20" y="405.50" width="16.00" height="15.80" fill="#7D96CA" />
<text x="473.00" y="416.50" font-size="8.5" text-anchor="start" fill="#1A1A1A" font-weight="normal" stroke="#1A1A1A" stroke-width="0.25" >85</text>
<rect x="450.20" y="423.30" width="16.00" height="15.80" fill="#F47FC1" />
<text x="473.00" y="434.30" font-size="8.5" text-anchor="start" fill="#1A1A1A" font-weight="normal" stroke="#1A1A1A" stroke-width="0.25" >88</text>
<rect x="450.20" y="441.10" width="16.00" height="15.80" fill="#8DCB47" />
<text x="473.00" y="452.10" font-size="8.5" text-anchor="start" fill="#1A1A1A" font-weight="normal" stroke="#1A1A1A" stroke-width="0.25" >94</text>
</svg>
</body></html>
